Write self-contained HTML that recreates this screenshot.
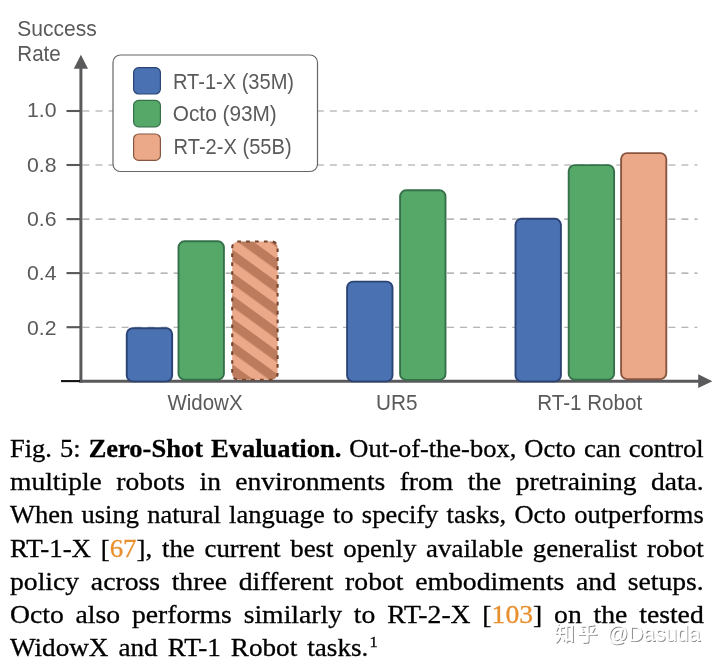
<!DOCTYPE html>
<html><head><meta charset="utf-8">
<style>
html,body{margin:0;padding:0;background:#fff;}
body{width:719px;height:665px;position:relative;overflow:hidden;}
svg{position:absolute;left:0;top:0;}
svg text{font-family:"Liberation Sans",sans-serif;fill:#5a5a5c;}
.cap{position:absolute;left:10px;transform-origin:0 0;height:33px;line-height:33px;font-family:"Liberation Serif",serif;font-size:25.3px;color:#000;-webkit-text-stroke:0.3px #000;white-space:nowrap;text-align:justify;text-align-last:justify;}
.cap.last{text-align-last:left;word-spacing:3.0px;}
.cap b{font-weight:bold;}
.cap .c{color:#e8902f;-webkit-text-stroke:0.3px #e8902f;}
.cap sup{font-size:15.3px;line-height:0;vertical-align:baseline;position:relative;top:-9.5px;margin-left:1px;}
.wm{position:absolute;line-height:26px;color:#fff;text-shadow:1px 1px 0.6px rgba(0,0,0,.5);-webkit-text-stroke:0.3px #fff;white-space:nowrap;transform-origin:0 0;}
.wm1{left:554.3px;top:621.3px;font-family:"Liberation Sans","Noto Sans CJK SC","WenQuanYi Zen Hei",sans-serif;font-size:20.5px;letter-spacing:2.2px;font-weight:500;}
.wm2{left:607px;top:621.2px;font-family:"Liberation Sans",sans-serif;font-size:22px;transform:scaleX(0.95);}
</style></head><body>
<svg width="719" height="420" viewBox="0 0 719 420" font-size="21.3">
<defs>
<pattern id="hatch" width="18.6" height="18.6" patternUnits="userSpaceOnUse" patternTransform="translate(233.3 250.1) rotate(36)">
<rect x="0" y="0" width="18.6" height="18.6" fill="#eba98a"/>
<rect x="0" y="0" width="18.6" height="9.3" fill="#bd7b5d"/>
</pattern>
</defs>
<!-- grid -->
<g stroke="#9e9e9e" stroke-width="1.1" stroke-dasharray="7 6.02" fill="none">
<line x1="82.5" y1="111" x2="697.5" y2="111"/>
<line x1="82.5" y1="165" x2="697.5" y2="165"/>
<line x1="82.5" y1="219.1" x2="697.5" y2="219.1"/>
<line x1="82.5" y1="273.1" x2="697.5" y2="273.1"/>
<line x1="82.5" y1="327.2" x2="697.5" y2="327.2"/>
</g>
<!-- axes -->
<g stroke="#5a5a5c" stroke-width="3" fill="none">
<line x1="80.9" y1="66" x2="80.9" y2="382.8"/>
<line x1="79.4" y1="381.3" x2="700" y2="381.3"/>
</g>
<g stroke="#58585a" stroke-width="2.1" fill="none">
<line x1="66.5" y1="111" x2="80" y2="111"/>
<line x1="66.5" y1="165" x2="80" y2="165"/>
<line x1="66.5" y1="219.1" x2="80" y2="219.1"/>
<line x1="66.5" y1="273.1" x2="80" y2="273.1"/>
<line x1="66.5" y1="327.2" x2="80" y2="327.2"/>
</g>
<line x1="61" y1="381.1" x2="80" y2="381.1" stroke="#111" stroke-width="2.1"/>
<polygon points="80.9,54.7 88,68.8 73.8,68.8" fill="#5a5a5c"/>
<polygon points="712.4,381.2 698.2,374.2 698.2,388.1" fill="#5a5a5c"/>
<!-- bars -->
<g stroke-width="1.9">
<rect x="126.75" y="328.2" width="45.4" height="53.2" rx="6" fill="#4a72b2" stroke="#2b4475"/>
<rect x="178.5" y="241.3" width="45.4" height="138.4" rx="6" fill="#55a868" stroke="#36704a"/>
<rect x="232.2" y="241.5" width="45.4" height="138.2" rx="6" fill="url(#hatch)" stroke="#74452f" stroke-width="2.1" stroke-dasharray="3.7 5.2" stroke-dashoffset="1"/>
<rect x="347.1" y="281.6" width="45.4" height="99.8" rx="6" fill="#4a72b2" stroke="#2b4475"/>
<rect x="400.1" y="190.3" width="45.4" height="189.6" rx="6" fill="#55a868" stroke="#36704a"/>
<rect x="515.5" y="218.8" width="45.4" height="162.6" rx="6" fill="#4a72b2" stroke="#2b4475"/>
<rect x="568.7" y="165.1" width="45.4" height="214.6" rx="6" fill="#55a868" stroke="#36704a"/>
<rect x="621.1" y="153.1" width="45.2" height="226" rx="6" fill="#eba98a" stroke="#8a5540"/>
</g>
<!-- legend -->
<rect x="113" y="55" width="204.5" height="116.5" rx="7.5" fill="#fff" stroke="#666668" stroke-width="1.2"/>
<g stroke-width="1.2">
<rect x="133.6" y="67.6" width="26.8" height="26.4" rx="5" fill="#4a72b2" stroke="#2b4475"/>
<rect x="133.6" y="100.4" width="26.8" height="26.4" rx="5" fill="#55a868" stroke="#36704a"/>
<rect x="133.6" y="134" width="26.8" height="26.4" rx="5" fill="#eba98a" stroke="#8a5540"/>
</g>
<text x="173" y="88.9" textLength="121" lengthAdjust="spacingAndGlyphs">RT-1-X (35M)</text>
<text x="172.8" y="121.4" textLength="104" lengthAdjust="spacingAndGlyphs">Octo (93M)</text>
<text x="173.6" y="153.7" textLength="118" lengthAdjust="spacingAndGlyphs">RT-2-X (55B)</text>
<!-- labels -->
<text x="17.3" y="36.1" textLength="79.5" lengthAdjust="spacingAndGlyphs">Success</text>
<text x="17.3" y="60.8" textLength="43.5" lengthAdjust="spacingAndGlyphs">Rate</text>
<text font-size="20.4" x="27" y="117" textLength="29.5" lengthAdjust="spacingAndGlyphs">1.0</text>
<text font-size="20.4" x="27" y="172.1" textLength="29.5" lengthAdjust="spacingAndGlyphs">0.8</text>
<text font-size="20.4" x="27" y="226.1" textLength="29.5" lengthAdjust="spacingAndGlyphs">0.6</text>
<text font-size="20.4" x="27" y="280.1" textLength="29.5" lengthAdjust="spacingAndGlyphs">0.4</text>
<text font-size="20.4" x="27" y="334.5" textLength="29.5" lengthAdjust="spacingAndGlyphs">0.2</text>
<text x="167.4" y="410" textLength="75.2" lengthAdjust="spacingAndGlyphs">WidowX</text>
<text x="376" y="410" textLength="41.5" lengthAdjust="spacingAndGlyphs">UR5</text>
<text x="537.2" y="410" textLength="105" lengthAdjust="spacingAndGlyphs">RT-1 Robot</text>
</svg>
<div class="cap" style="top:432.0px;width:662.6px;transform:scaleX(1.0470)">Fig. 5: <b>Zero-Shot Evaluation.</b> Out-of-the-box, Octo can control</div>
<div class="cap" style="top:465.2px;width:637.1px;transform:scaleX(1.0889)">multiple robots in environments from the pretraining data.</div>
<div class="cap" style="top:498.4px;width:662.6px;transform:scaleX(1.0470)">When using natural language to specify tasks, Octo outperforms</div>
<div class="cap" style="top:531.6px;width:652.8px;transform:scaleX(1.0627)">RT-1-X [<span class="c">67</span>], the current best openly available generalist robot</div>
<div class="cap" style="top:564.8px;width:634.1px;transform:scaleX(1.0941)">policy across three different robot embodiments and setups.</div>
<div class="cap" style="top:598.0px;width:634.1px;transform:scaleX(1.0941)">Octo also performs similarly to RT-2-X [<span class="c">103</span>] on the tested</div>
<div class="cap last" style="top:631.2px;width:646.4px;transform:scaleX(1.0732)">WidowX and RT-1 Robot tasks.<sup>1</sup></div>
<div class="wm wm1">知乎</div><div class="wm wm2">@Dasuda</div>
</body></html>
